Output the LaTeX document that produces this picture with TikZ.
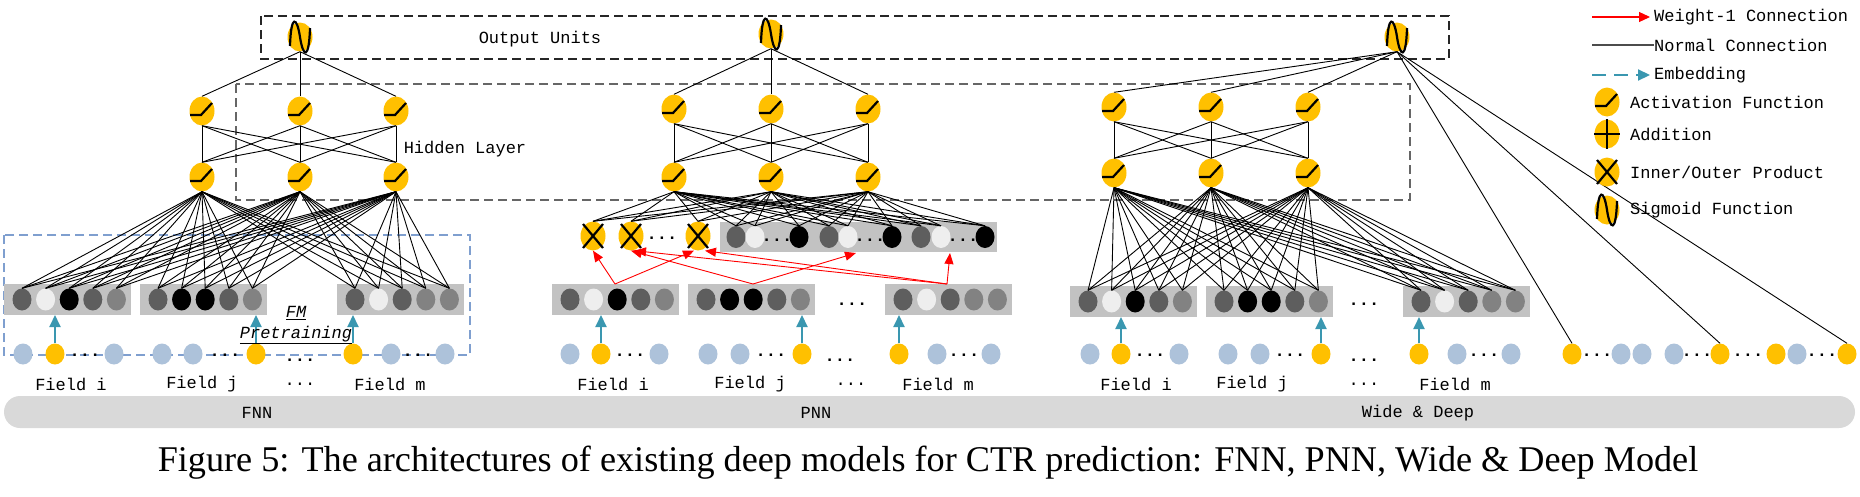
\documentclass[tikz,border=0pt]{standalone}
\usepackage{fontspec}
\setmainfont{Liberation Serif}
\newfontfamily\mono{Liberation Mono}
\usetikzlibrary{shapes.geometric,arrows.meta}
\definecolor{yel}{HTML}{FFC000}
\definecolor{cd}{HTML}{5E5E5E}
\definecolor{cl}{HTML}{EEEEEE}
\definecolor{ck}{HTML}{000000}
\definecolor{cm}{HTML}{828282}
\definecolor{boxg}{HTML}{C2C2C2}
\definecolor{inb}{HTML}{ADC2DA}
\definecolor{tealc}{HTML}{3A97B0}
\definecolor{barg}{HTML}{D9D9D9}
\definecolor{fmblue}{HTML}{7F9FCF}
\newcommand\tdots{...}
\tikzset{
 hid/.style={ellipse, fill=yel, minimum width=25pt, minimum height=29pt, inner sep=0},
 emb/.style={ellipse, minimum width=19pt, minimum height=22pt, inner sep=0},
 embbg/.style={fill=boxg, minimum height=31pt, inner sep=0},
 inp/.style={ellipse, minimum width=19pt, minimum height=21pt, inner sep=0},
 conn/.style={black, line width=0.9pt},
 w1/.style={red, line width=0.9pt, -{Triangle[width=9pt,length=11pt]}},
 embarrow/.style={tealc, line width=2pt, -{Triangle[width=11pt,length=12pt]}},
 lbl/.style={font=\mono\fontsize{17}{17}\selectfont, inner sep=0},
 dots/.style={font=\mono\bfseries\fontsize{17}{17}\selectfont, inner sep=0},
 dbox/.style={dash pattern=on 9pt off 5pt, line width=1.8pt},
 relu/.pic={\draw[line width=2.2pt] (-12,4)--(-1,4)--(10,-8);},
 sig/.pic={\draw[line width=2.2pt] (-10,9) .. controls (-9,-24) and (-3,-20) .. (0,0) .. controls (3,20) and (9,24) .. (10,-9);},
 crs/.pic={\draw[line width=2.2pt] (-10,-12)--(10,12) (-10,12)--(10,-12);},
 pls/.pic={\draw[line width=2.2pt] (-13,0)--(13,0) (0,-15)--(0,15);},
}
\newcommand\embbox[4]{%
 \node[embbg, minimum width=127pt] at ({#2+63.5},#3) {};
 \foreach \col [count=\k] in {#4} \node[emb, fill=\col] (#1\k) at ({#2+18+23.6*(\k-1)},#3) {};
}
\begin{document}
\begin{tikzpicture}[x=1pt,y=-1pt]
\useasboundingbox (0,0) rectangle (1860,496);
% dashed boxes
\draw[dbox, black!85] (261,16) rectangle (1449,59);
\draw[dbox, black!60] (236,84) rectangle (1410,200);
\draw[dbox, fmblue] (4,235) rectangle (470,355);
\node[lbl] (ou) at (540,39) {Output Units};
\node[lbl] (hl) at (465,149) {Hidden Layer};
% output units
\node[hid] (s1) at (300,37) {}; \pic at (s1) {sig};
\node[hid] (s2) at (771,34) {}; \pic at (s2) {sig};
\node[hid] (s3) at (1397,37) {}; \pic at (s3) {sig};
% hidden layers
\foreach \p/\xa/\xb/\xc/\ya/\yb/\s in {f/202/300/396/111/177/s1, p/674/771/868/109/177/s2, w/1114/1211/1308/107/173/s3}{
 \node[hid] (\p a1) at (\xa,\ya) {}; \node[hid] (\p a2) at (\xb,\ya) {}; \node[hid] (\p a3) at (\xc,\ya) {};
 \node[hid] (\p b1) at (\xa,\yb) {}; \node[hid] (\p b2) at (\xb,\yb) {}; \node[hid] (\p b3) at (\xc,\yb) {};
 \foreach \i in {1,2,3}{
  \draw[conn] (\s.south) -- (\p a\i.north);
  \foreach \j in {1,2,3} \draw[conn] (\p a\i.south) -- (\p b\j.north);
 }
}
% embedding boxes
\embbox{fe1}{4}{299.5}{cd,cl,ck,cd,cm}
\embbox{fe2}{140}{299.5}{cd,ck,ck,cd,cm}
\embbox{fe3}{337}{299.5}{cd,cl,cd,cm,cm}
\embbox{pe1}{552}{299.5}{cd,cl,ck,cd,cm}
\embbox{pe2}{688}{299.5}{cd,ck,ck,cd,cm}
\embbox{pe3}{885}{299.5}{cd,cl,cd,cm,cm}
\embbox{we1}{1070}{301.5}{cd,cl,ck,cd,cm}
\embbox{we2}{1206}{301.5}{cd,ck,ck,cd,cm}
\embbox{we3}{1403}{301.5}{cd,cl,cd,cm,cm}
\node[dots] (pd) at (852,304) {\tdots};
\node[dots] (wd) at (1364,304) {\tdots};
% PNN product layer
\node[embbg, minimum width=277pt, minimum height=30pt] (ptb) at (858.5,237) {};
\foreach \xx/\col [count=\k] in {736/cd,755/cl,799/ck,829/cd,848/cl,892/ck,921/cd,941/cl,985/ck}
 \node[emb, fill=\col] (pt\k) at (\xx,237) {};
\foreach \xx in {777,870,963} \node[dots] at (\xx,240) {\tdots};
\node[hid] (x1) at (593,236) {}; \pic at (x1) {crs};
\node[hid] (x2) at (631,236) {}; \pic at (x2) {crs};
\node[hid] (x3) at (698,236) {}; \pic at (x3) {crs};
\node[dots] (xd) at (662,238) {\tdots};
% hidden to embeddings
\foreach \h in {1,2,3}{
 \foreach \b in {1,2,3}{\foreach \k in {1,...,5}{
  \draw[conn] (fb\h.south) -- (fe\b\k.north);
  \draw[conn] (wb\h.south) -- (we\b\k.north);
 }}
 \foreach \k in {1,...,9} \draw[conn] (pb\h.south) -- (pt\k.north);
 \foreach \k in {1,2,3} \draw[conn] (pb\h.south) -- (x\k.north);
}
% red weight-1 connections
\coordinate (ra) at (615,284);
\coordinate (rb) at (753,284);
\coordinate (rc) at (947,284);
\coordinate (t1) at (856,253);
\coordinate (t2) at (950,253);
\draw[w1] (ra) -- (x1.south);
\draw[w1] (ra) -- ([xshift=-4pt]x3.south);
\draw[w1] (rb) -- (x2.south);
\draw[w1] (rb) -- (t1);
\draw[w1] (rc) -- ([xshift=7pt]x3.south);
\draw[w1] (rc) -- ([xshift=4pt]x2.south);
\draw[w1] (rc) -- (t2);
% input fields
\foreach \nm/\xx/\col in {fi1/23/inb,fi2/55/yel,fi3/114/inb,fi4/162/inb,fi5/193/inb,fi6/256/yel,fi7/353/yel,fi8/391/inb,fi9/445/inb,
 pi1/570/inb,pi2/601/yel,pi3/659/inb,pi4/708/inb,pi5/740/inb,pi6/802/yel,pi7/899/yel,pi8/937/inb,pi9/991/inb,
 wi1/1090/inb,wi2/1121/yel,wi3/1179/inb,wi4/1228/inb,wi5/1260/inb,wi6/1321/yel,wi7/1419/yel,wi8/1457/inb,wi9/1511/inb,
 wx1/1572/yel,wx2/1621/inb,wx3/1642/inb,wx4/1674/inb,wx5/1720/yel,wx6/1776/yel,wx7/1797/inb,wx8/1847/yel}
 \node[inp, fill=\col] (\nm) at (\xx,354) {};
\foreach \xx in {85,225,418,630,771,964,1150,1290,1484,1597,1697,1748,1822}
 \node[dots] at (\xx,355) {\tdots};
\foreach \xx in {300,840,1364} \node[dots] at (\xx,360) {\tdots};
% embedding arrows
\coordinate (ea1) at (55,315); \coordinate (ea2) at (256,315); \coordinate (ea3) at (353,315);
\coordinate (eb1) at (601,315); \coordinate (eb2) at (802,315); \coordinate (eb3) at (899,315);
\coordinate (ec1) at (1121,317); \coordinate (ec2) at (1321,317); \coordinate (ec3) at (1419,317);
\draw[embarrow] (fi2.north) -- (ea1);
\draw[embarrow] (fi6.north) -- (ea2);
\draw[embarrow] (fi7.north) -- (ea3);
\draw[embarrow] (pi2.north) -- (eb1);
\draw[embarrow] (pi6.north) -- (eb2);
\draw[embarrow] (pi7.north) -- (eb3);
\draw[embarrow] (wi2.north) -- (ec1);
\draw[embarrow] (wi6.north) -- (ec2);
\draw[embarrow] (wi7.north) -- (ec3);
% wide part
\foreach \t in {wx1,wx5,wx8} \draw[conn] (s3.south) -- (\t.north);
% FM pretraining
\node[font=\mono\itshape\fontsize{17}{17}\selectfont, inner sep=0] (fm) at (296,313) {\underline{FM}};
\node[font=\mono\itshape\fontsize{17}{17}\selectfont, inner sep=0] (pre) at (296,335) {\underline{Pretraining}};
% field labels
\foreach \xx/\tx in {71/Field i,202/Field j,300/\tdots,390/Field m,613/Field i,750/Field j,851/\tdots,938/Field m,1136/Field i,1252/Field j,1364/\tdots,1455/Field m}
 \node[lbl] at (\xx,384) {\tx};
% bottom bar
\node[fill=barg, rounded corners=16pt, minimum width=1851pt, minimum height=32pt, inner sep=0] (bar) at (929.5,412) {};
\node[lbl] (fnn) at (257,413) {FNN};
\node[lbl] (pnn) at (816,413) {PNN};
\node[lbl] (wdl) at (1418,413) {Wide \& Deep};
% legend
\coordinate (l1a) at (1592,17); \coordinate (l1b) at (1650,17);
\draw[red, line width=1.2pt, -{Triangle[width=10pt,length=11pt]}] (l1a) -- (l1b);
\node[lbl, anchor=west] (lt1) at (1654,17) {Weight-1 Connection};
\coordinate (l2a) at (1592,45);
\node[lbl, anchor=west] (lt2) at (1654,45) {Normal Connection};
\draw[black!70, line width=1.5pt] (l2a) -- (lt2.west);
\coordinate (l3a) at (1592,75); \coordinate (l3b) at (1650,75);
\draw[tealc, line width=2pt, dash pattern=on 14pt off 8pt, -{Triangle[width=11pt,length=12pt]}] (l3a) -- (l3b);
\node[lbl, anchor=west] (lt3) at (1654,75) {Embedding};
\node[hid] (li1) at (1607,102) {}; \pic at (li1) {relu};
\node[lbl, anchor=west] (lt4) at (1630,102) {Activation Function};
\node[hid] (li2) at (1607,134) {}; \pic at (li2) {pls};
\node[lbl, anchor=west] (lt5) at (1630,134) {Addition};
\node[hid] (li3) at (1607,172) {}; \pic at (li3) {crs};
\node[lbl, anchor=west] (lt6) at (1630,172) {Inner/Outer Product};
\node[hid] (li4) at (1607,210) {}; \pic at (li4) {sig};
\node[lbl, anchor=west] (lt7) at (1630,210) {Sigmoid Function};
% relu icons on hidden nodes
\foreach \p in {f,p,w}\foreach \i in {1,2,3}{\pic at (\p a\i) {relu}; \pic at (\p b\i) {relu};}
% caption
\node[inner sep=0] (cap) at (928,463) {\resizebox{1540pt}{!}{Figure 5: The architectures of existing deep models for CTR prediction: FNN, PNN, Wide \& Deep Model}};
\end{tikzpicture}
\end{document}
